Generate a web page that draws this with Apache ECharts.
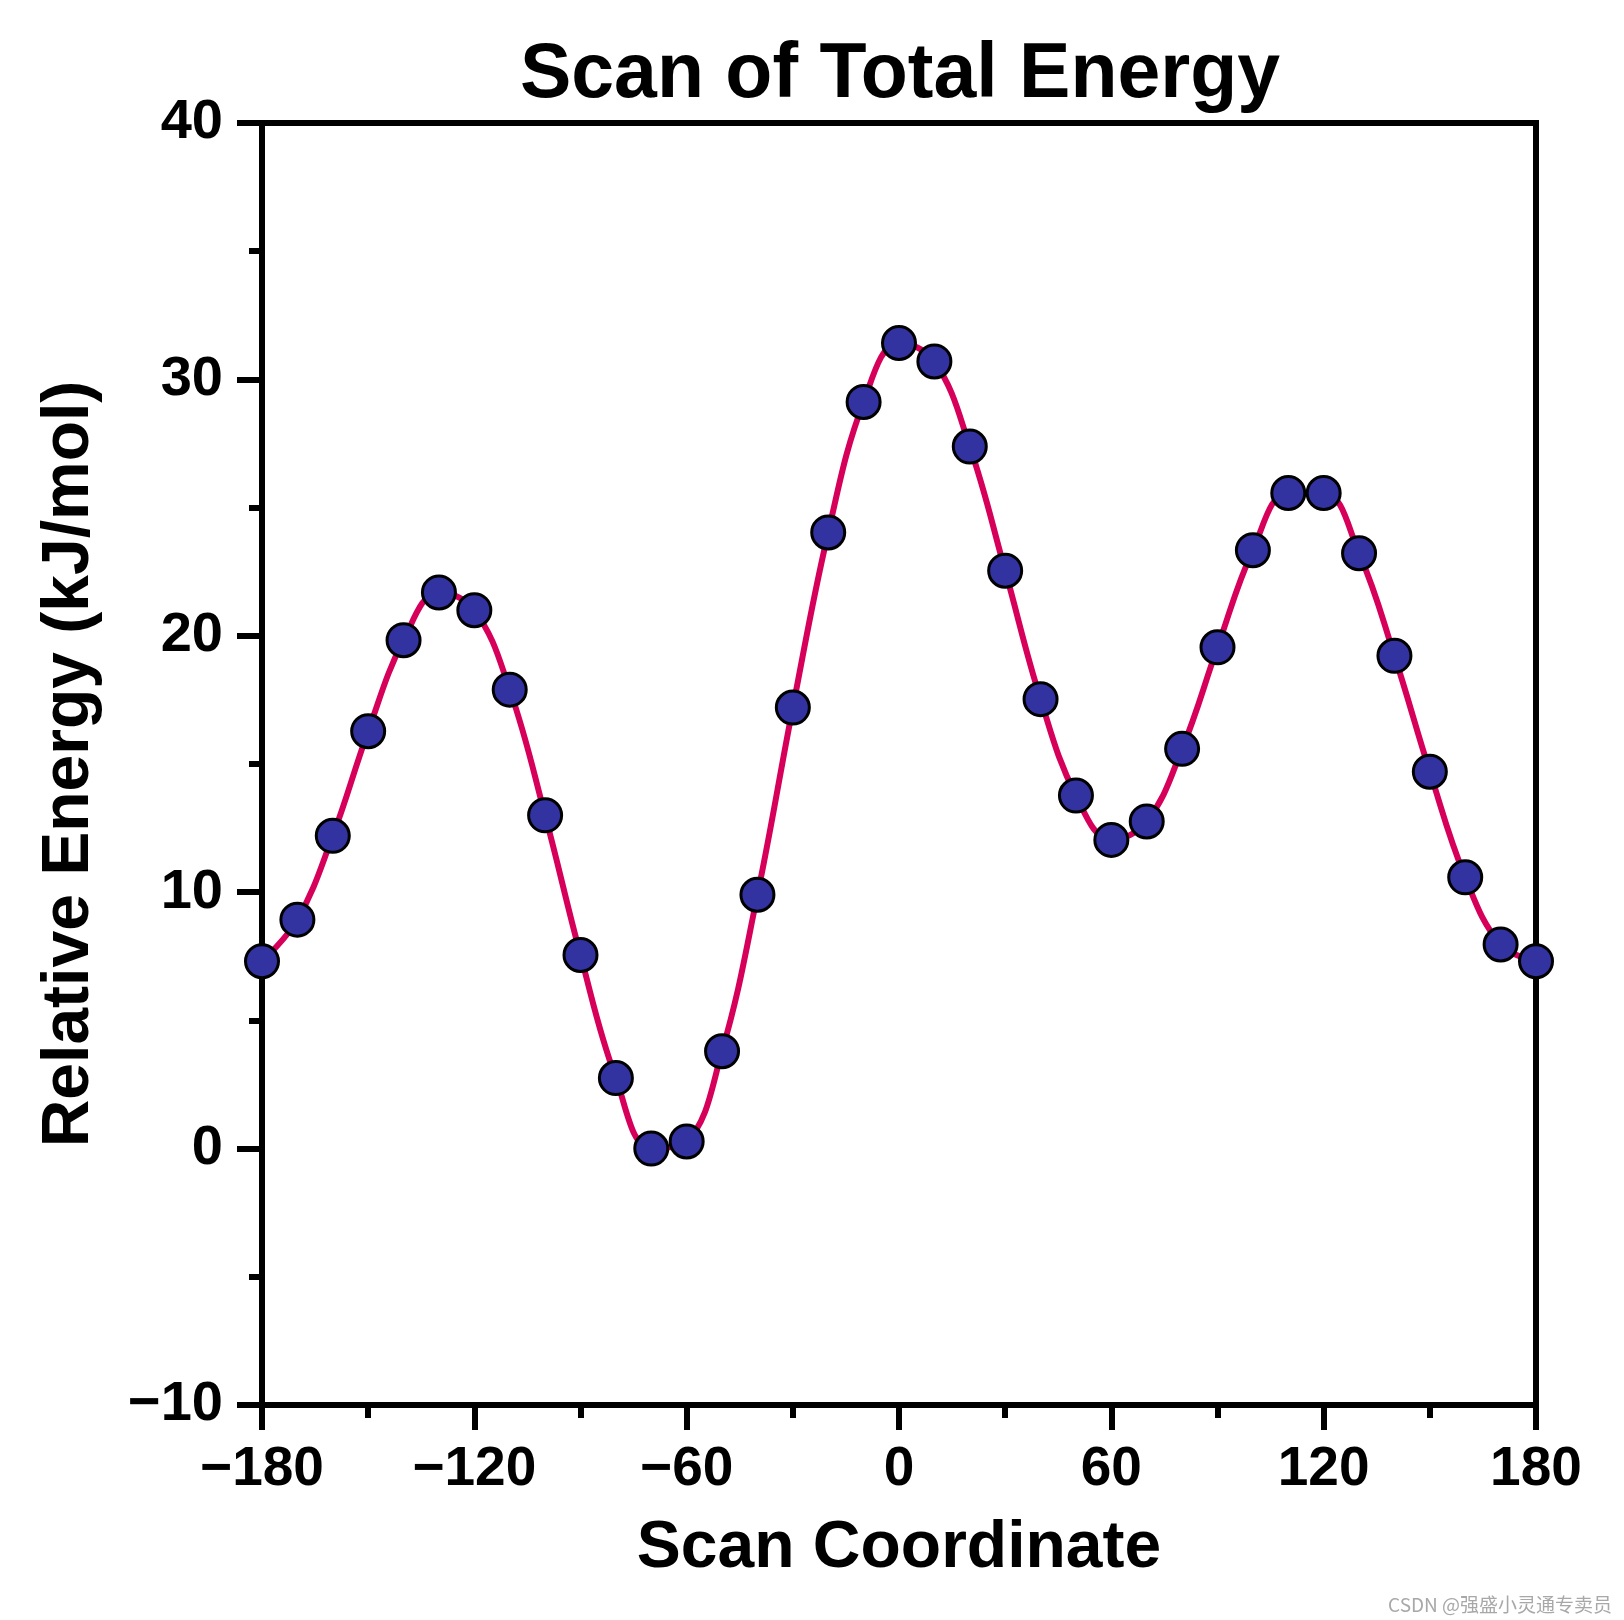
<!DOCTYPE html>
<html>
<head>
<meta charset="utf-8">
<script src="https://cdn.jsdelivr.net/npm/echarts@6/dist/echarts.min.js"></script>
<style>
html,body{margin:0;padding:0;background:#fff;}
#chart{width:1624px;height:1620px;}
</style>
</head>
<body>
<div id="chart"></div>
<script>
const scanCoord = [-180,-170,-160,-150,-140,-130,-120,-110,-100,-90,-80,-70,-60,-50,-40,-30,-20,-10,0,10,20,30,40,50,60,70,80,90,100,110,120,130,140,150,160,170,180];
const energy = [7.31,8.93,12.2,16.28,19.83,21.69,21.0,17.9,13.0,7.55,2.75,0.0,0.28,3.8,9.9,17.2,24.03,29.12,31.42,30.7,27.38,22.54,17.53,13.77,12.04,12.76,15.59,19.55,23.34,25.57,25.57,23.22,19.22,14.7,10.58,7.96,7.31];
const titleText = 'Scan of Total Energy';
const xName = 'Scan Coordinate';
const yName = 'Relative Energy (kJ/mol)';

const FONT = 'Liberation Sans';
const fmt = v => String(v).replace('-', '\u2212');

const chart = echarts.init(document.getElementById('chart'), null, {renderer:'canvas'});
chart.setOption({
  backgroundColor: '#ffffff',
  animation: false,
  title: {
    text: titleText,
    left: 895,
    textAlign: 'center',
    top: 32,
    textStyle: {fontFamily: FONT, fontWeight: 'bold', fontSize: 77, color: '#000'}
  },
  grid: {
    left: 262, top: 123, width: 1274, height: 1282,
    show: true, borderColor: '#000', borderWidth: 6, backgroundColor: 'transparent'
  },
  xAxis: {
    type: 'value', min: -180, max: 180, interval: 60,
    name: xName, nameLocation: 'middle', nameGap: 111,
    nameTextStyle: {fontFamily: FONT, fontWeight: 'bold', fontSize: 66, color: '#000'},
    axisLine: {show: true, onZero: false, lineStyle: {color: '#000', width: 6}},
    axisTick: {show: true, inside: false, length: 25, lineStyle: {color: '#000', width: 6}},
    minorTick: {show: true, splitNumber: 2, length: 13, lineStyle: {color: '#000', width: 6}},
    splitLine: {show: false},
    axisLabel: {margin: 37, fontFamily: FONT, fontWeight: 'bold', fontSize: 55, color: '#000', formatter: fmt}
  },
  yAxis: {
    type: 'value', min: -10, max: 40, interval: 10,
    name: yName, nameLocation: 'middle', nameGap: 159, nameRotate: 90,
    nameTextStyle: {fontFamily: FONT, fontWeight: 'bold', fontSize: 66, color: '#000'},
    axisLine: {show: true, onZero: false, lineStyle: {color: '#000', width: 6}},
    axisTick: {show: true, inside: false, length: 25, lineStyle: {color: '#000', width: 6}},
    minorTick: {show: true, splitNumber: 2, length: 13, lineStyle: {color: '#000', width: 6}},
    splitLine: {show: false},
    axisLabel: {margin: 39, fontFamily: FONT, fontWeight: 'bold', fontSize: 56, color: '#000', formatter: fmt}
  },
  series: [{
    type: 'line',
    data: scanCoord.map((x, i) => [x, energy[i]]),
    smooth: 0.4,
    clip: false,
    symbol: 'circle',
    symbolSize: 33,
    showAllSymbol: true,
    lineStyle: {color: '#d6005a', width: 6},
    itemStyle: {color: '#3232a0', borderColor: '#000', borderWidth: 3}
  }],
  graphic: [{
    type: 'text',
    right: 12, bottom: 6,
    style: {text: 'CSDN @强盛小灵通专卖员', fontFamily: 'Noto Sans CJK SC', fontSize: 19, fill: '#a8a8a8'}
  }]
});
</script>
</body>
</html>
